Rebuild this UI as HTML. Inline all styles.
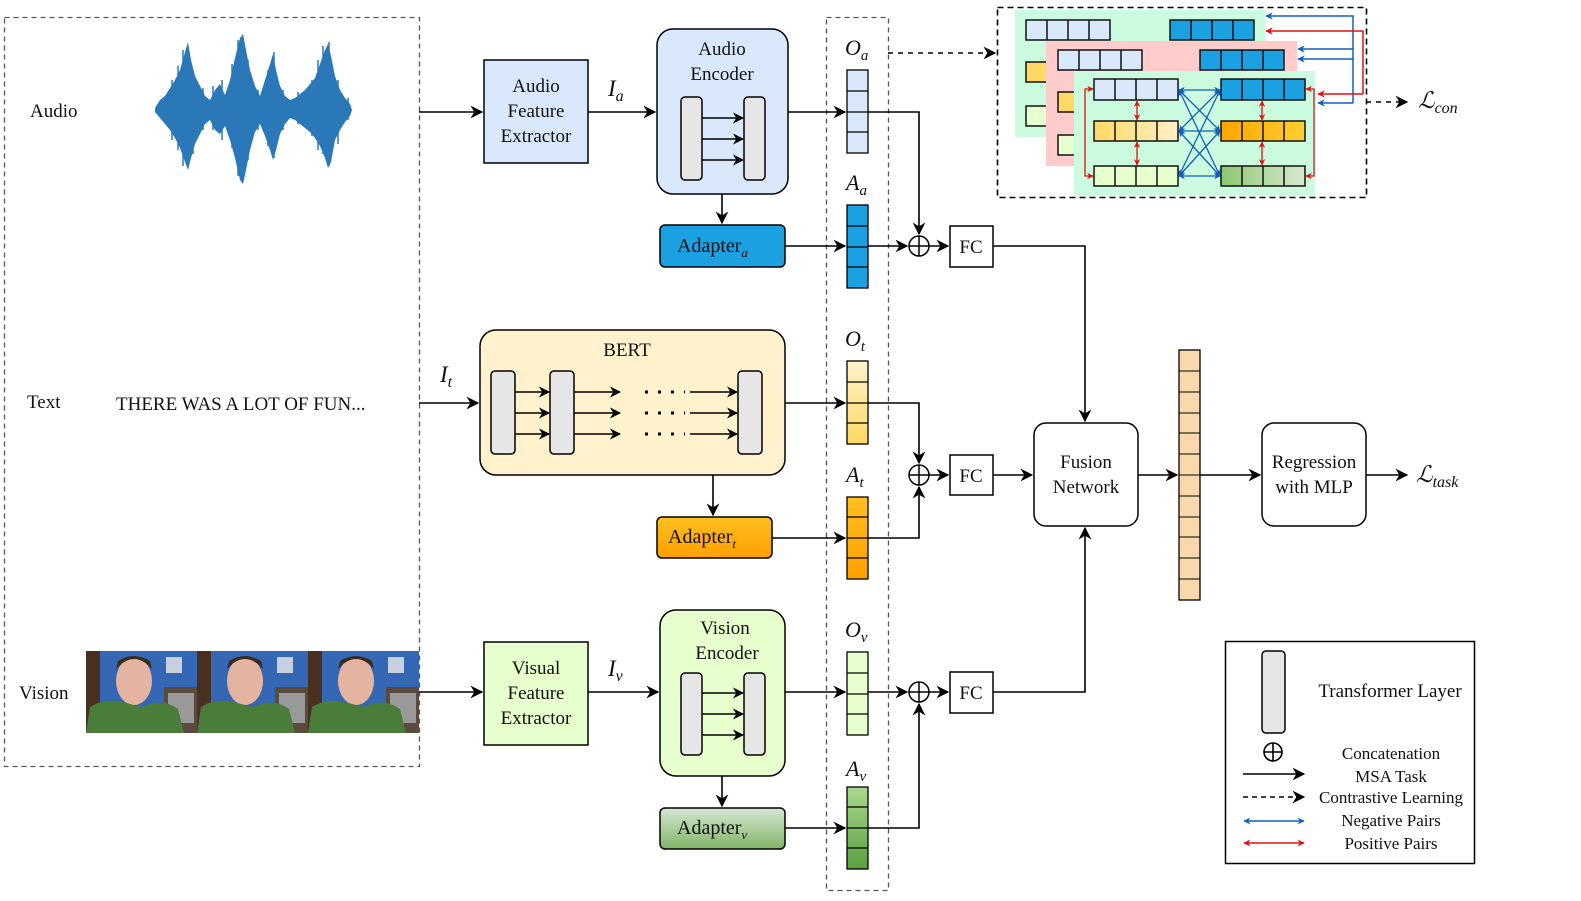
<!DOCTYPE html>
<html><head><meta charset="utf-8"><style>
html,body{margin:0;padding:0;background:#fff}
svg{display:block}
text{font-family:"Liberation Serif",serif;fill:#111}
</style></head><body>
<svg width="1581" height="901" viewBox="0 0 1581 901" xmlns="http://www.w3.org/2000/svg">
<defs>
<marker id="a" viewBox="0 0 10 10" refX="9" refY="5" markerWidth="8" markerHeight="8" orient="auto"><path d="M0,0 L10,5 L0,10 L3,5 z" fill="#000"/></marker>
<marker id="ab" viewBox="0 0 10 10" refX="9" refY="5" markerWidth="5" markerHeight="5" orient="auto-start-reverse"><path d="M0,0 L10,5 L0,10 L3,5 z" fill="#1060c0"/></marker>
<marker id="ar" viewBox="0 0 10 10" refX="9" refY="5" markerWidth="5" markerHeight="5" orient="auto-start-reverse"><path d="M0,0 L10,5 L0,10 L3,5 z" fill="#e01010"/></marker>
<linearGradient id="gy" x1="0" y1="0" x2="1" y2="0"><stop offset="0" stop-color="#ffd966"/><stop offset="1" stop-color="#fff0c8"/></linearGradient>
<linearGradient id="go" x1="0" y1="0" x2="1" y2="0"><stop offset="0" stop-color="#ffa500"/><stop offset="1" stop-color="#ffd030"/></linearGradient>
<linearGradient id="gg" x1="0" y1="0" x2="1" y2="0"><stop offset="0" stop-color="#8cc870"/><stop offset="1" stop-color="#d8e8d0"/></linearGradient>
<linearGradient id="gav" x1="0" y1="0" x2="0" y2="1"><stop offset="0" stop-color="#d5e8d4"/><stop offset="1" stop-color="#82b366"/></linearGradient>
<linearGradient id="gcol" x1="0" y1="0" x2="0" y2="1"><stop offset="0" stop-color="#fff2cc"/><stop offset="1" stop-color="#ffd966"/></linearGradient>
<linearGradient id="gcolv" x1="0" y1="0" x2="0" y2="1"><stop offset="0" stop-color="#a8d890"/><stop offset="1" stop-color="#5aa040"/></linearGradient>
<linearGradient id="gat" x1="0" y1="0" x2="0" y2="1"><stop offset="0" stop-color="#ffc020"/><stop offset="1" stop-color="#ffa000"/></linearGradient>
<g id="frame">
<rect x="0" y="0" width="111" height="82" fill="#3468b4"/>
<rect x="0" y="0" width="14" height="82" fill="#4a3020"/>
<rect x="78" y="36" width="33" height="46" fill="#5a4a40"/>
<rect x="82" y="42" width="26" height="30" fill="#999"/>
<rect x="80" y="6" width="16" height="16" fill="#c8d0e0"/>
<ellipse cx="48" cy="30" rx="18" ry="24" fill="#e4b4a0"/>
<path d="M30,18 Q48,-2 66,18 L64,10 Q48,0 32,10 z" fill="#3a2a20"/>
<path d="M0,82 L4,56 Q20,46 40,52 L56,56 Q76,46 92,58 L98,82 z" fill="#4a7c3a"/>
</g>
</defs>

<rect x="4.5" y="17.5" width="415" height="749" fill="none" stroke="#555" stroke-width="1.3" stroke-dasharray="5,4"/>
<text x="30" y="117" font-size="19">Audio</text>
<text x="27" y="408" font-size="19">Text</text>
<text x="19" y="699" font-size="19">Vision</text>
<text x="116" y="410" font-size="19">THERE WAS A LOT OF FUN...</text>

<path fill="#2a78b8" d="M155,108 160,100 165,96 170,88 175,80 180,70 185,52 188,42 191,60 195,76 200,86 205,96 210,100 215,90 220,84 225,95 230,80 235,58 240,38 243,34 246,50 250,70 255,86 260,96 265,80 270,64 273,54 276,70 280,86 285,96 290,100 295,98 300,94 305,90 310,84 315,78 320,64 325,50 328,44 331,56 335,76 340,90 345,98 350,104 352,110 350,116 345,122 340,130 335,140 331,162 328,168 325,158 320,146 315,138 310,132 305,128 300,124 295,120 290,118 285,124 280,134 276,150 273,160 270,150 265,136 260,124 255,132 250,150 246,170 243,184 240,180 235,158 230,140 225,126 220,134 215,130 210,120 205,124 200,134 195,144 191,158 188,170 185,162 180,148 175,138 170,130 165,124 160,118 155,112 z"/>
<g stroke="#2a78b8" stroke-width="1.5">
<path d="M172,80v60M178,66v84M183,50v116M193,70v84M203,88v42M213,86v44M222,80v60M232,64v84M238,40v136M248,60v100M258,90v40M268,70v76M274,52v106M283,90v40M298,92v32M312,80v56M318,60v90M323,46v108M329,42v124M338,80v64M348,98v22"/>
</g>

<use href="#frame" x="86" y="651"/>
<use href="#frame" x="197" y="651"/>
<use href="#frame" x="308" y="651"/>

<g stroke="#000" stroke-width="1.6" fill="none">
<line x1="419" y1="112" x2="482" y2="112" marker-end="url(#a)"/>
<line x1="419" y1="403" x2="478" y2="403" marker-end="url(#a)"/>
<line x1="419" y1="692" x2="482" y2="692" marker-end="url(#a)"/>
<line x1="588" y1="112" x2="655" y2="112" marker-end="url(#a)"/>
<line x1="588" y1="692" x2="658" y2="692" marker-end="url(#a)"/>
</g>

<rect x="484" y="60" width="104" height="103" fill="#dae8fc" stroke="#000" stroke-width="1.5"/>
<text x="536" y="92" font-size="19" text-anchor="middle">Audio</text>
<text x="536" y="117" font-size="19" text-anchor="middle">Feature</text>
<text x="536" y="142" font-size="19" text-anchor="middle">Extractor</text>
<text x="608" y="96" font-size="23" font-style="italic">I<tspan font-size="16" dy="5">a</tspan></text>

<rect x="657" y="29" width="131" height="165" rx="16" fill="#dae8fc" stroke="#000" stroke-width="1.5"/>
<text x="722" y="55" font-size="19" text-anchor="middle">Audio</text>
<text x="722" y="80" font-size="19" text-anchor="middle">Encoder</text>
<rect x="681" y="97" width="21" height="83" rx="4" fill="#e6e6e6" stroke="#000" stroke-width="1.5"/>
<rect x="744" y="97" width="21" height="83" rx="4" fill="#e6e6e6" stroke="#000" stroke-width="1.5"/>
<g stroke="#000" stroke-width="1.4" marker-end="url(#a)">
<line x1="702" y1="118" x2="743" y2="118"/><line x1="702" y1="139" x2="743" y2="139"/><line x1="702" y1="160" x2="743" y2="160"/>
</g>
<line x1="722" y1="194" x2="722" y2="223" stroke="#000" stroke-width="1.6" marker-end="url(#a)"/>
<rect x="660" y="225" width="125" height="42" rx="5" fill="#1ba1e2" stroke="#000" stroke-width="1.5"/>
<text x="677" y="252" font-size="20">Adapter<tspan font-size="13" font-style="italic" dy="5">a</tspan></text>

<rect x="484" y="642" width="104" height="103" fill="#e6ffcc" stroke="#000" stroke-width="1.5"/>
<text x="536" y="674" font-size="19" text-anchor="middle">Visual</text>
<text x="536" y="699" font-size="19" text-anchor="middle">Feature</text>
<text x="536" y="724" font-size="19" text-anchor="middle">Extractor</text>
<text x="608" y="676" font-size="23" font-style="italic">I<tspan font-size="16" dy="5">v</tspan></text>

<rect x="660" y="610" width="125" height="166" rx="16" fill="#e6ffcc" stroke="#000" stroke-width="1.5"/>
<text x="725" y="634" font-size="19" text-anchor="middle">Vision</text>
<text x="727" y="659" font-size="19" text-anchor="middle">Encoder</text>
<rect x="681" y="673" width="21" height="82" rx="4" fill="#e6e6e6" stroke="#000" stroke-width="1.5"/>
<rect x="744" y="673" width="21" height="82" rx="4" fill="#e6e6e6" stroke="#000" stroke-width="1.5"/>
<g stroke="#000" stroke-width="1.4" marker-end="url(#a)">
<line x1="702" y1="693" x2="743" y2="693"/><line x1="702" y1="714" x2="743" y2="714"/><line x1="702" y1="735" x2="743" y2="735"/>
</g>
<line x1="722" y1="776" x2="722" y2="806" stroke="#000" stroke-width="1.6" marker-end="url(#a)"/>
<rect x="660" y="808" width="125" height="41" rx="5" fill="url(#gav)" stroke="#000" stroke-width="1.5"/>
<text x="677" y="834" font-size="20">Adapter<tspan font-size="13" font-style="italic" dy="5">v</tspan></text>

<text x="440" y="382" font-size="23" font-style="italic">I<tspan font-size="16" dy="5">t</tspan></text>
<rect x="480" y="330" width="305" height="145" rx="16" fill="#fff2cc" stroke="#000" stroke-width="1.5"/>
<text x="627" y="356" font-size="19" text-anchor="middle">BERT</text>
<rect x="491" y="371" width="24" height="83" rx="4" fill="#e6e6e6" stroke="#000" stroke-width="1.5"/>
<rect x="550" y="371" width="24" height="83" rx="4" fill="#e6e6e6" stroke="#000" stroke-width="1.5"/>
<rect x="738" y="371" width="24" height="83" rx="4" fill="#e6e6e6" stroke="#000" stroke-width="1.5"/>
<g stroke="#000" stroke-width="1.4" marker-end="url(#a)">
<line x1="515" y1="392" x2="549" y2="392"/><line x1="515" y1="413" x2="549" y2="413"/><line x1="515" y1="434" x2="549" y2="434"/>
<line x1="574" y1="392" x2="620" y2="392"/><line x1="574" y1="413" x2="620" y2="413"/><line x1="574" y1="434" x2="620" y2="434"/>
<line x1="690" y1="392" x2="737" y2="392"/><line x1="690" y1="413" x2="737" y2="413"/><line x1="690" y1="434" x2="737" y2="434"/>
</g>
<g stroke="#000" stroke-width="3" stroke-dasharray="3,10">
<line x1="645" y1="392" x2="685" y2="392"/><line x1="645" y1="413" x2="685" y2="413"/><line x1="645" y1="434" x2="685" y2="434"/>
</g>
<line x1="713" y1="475" x2="713" y2="515" stroke="#000" stroke-width="1.6" marker-end="url(#a)"/>
<rect x="657" y="517" width="115" height="41" rx="5" fill="url(#gat)" stroke="#000" stroke-width="1.5"/>
<text x="668" y="543" font-size="20">Adapter<tspan font-size="13" font-style="italic" dy="5">t</tspan></text>

<rect x="826.5" y="17.5" width="62" height="873" fill="none" stroke="#555" stroke-width="1.3" stroke-dasharray="5,4"/>

<g stroke="#000" stroke-width="1.3">
<rect x="847" y="70" width="21" height="83" fill="#dae8fc"/>
<rect x="847" y="205" width="21" height="83" fill="#1ba1e2"/>
<rect x="847" y="361" width="21" height="83" fill="url(#gcol)"/>
<rect x="847" y="497" width="21" height="82" fill="url(#gat)"/>
<rect x="847" y="652" width="21" height="83" fill="#e6ffcc"/>
<rect x="847" y="787" width="21" height="82" fill="url(#gcolv)"/>
<path d="M847,91h21M847,112h21M847,132h21M847,226h21M847,247h21M847,267h21M847,382h21M847,403h21M847,423h21M847,517h21M847,538h21M847,558h21M847,673h21M847,694h21M847,714h21M847,807h21M847,828h21M847,848h21" fill="none"/>
</g>
<g font-size="22" font-style="italic">
<text x="845" y="55">O<tspan font-size="15" dy="5">a</tspan></text>
<text x="846" y="190">A<tspan font-size="15" dy="5">a</tspan></text>
<text x="845" y="346">O<tspan font-size="15" dy="5">t</tspan></text>
<text x="846" y="482">A<tspan font-size="15" dy="5">t</tspan></text>
<text x="845" y="637">O<tspan font-size="15" dy="5">v</tspan></text>
<text x="846" y="776">A<tspan font-size="15" dy="5">v</tspan></text>
</g>

<g stroke="#000" stroke-width="1.6" fill="none">
<line x1="788" y1="112" x2="845" y2="112" marker-end="url(#a)"/>
<line x1="785" y1="246" x2="845" y2="246" marker-end="url(#a)"/>
<line x1="785" y1="403" x2="845" y2="403" marker-end="url(#a)"/>
<line x1="772" y1="538" x2="845" y2="538" marker-end="url(#a)"/>
<line x1="785" y1="692" x2="845" y2="692" marker-end="url(#a)"/>
<line x1="785" y1="828" x2="845" y2="828" marker-end="url(#a)"/>
<polyline points="868,112 919,112 919,234" marker-end="url(#a)"/>
<line x1="868" y1="246" x2="907" y2="246" marker-end="url(#a)"/>
<polyline points="868,403 919,403 919,463" marker-end="url(#a)"/>
<polyline points="868,538 919,538 919,487" marker-end="url(#a)"/>
<line x1="868" y1="692" x2="907" y2="692" marker-end="url(#a)"/>
<polyline points="868,828 919,828 919,704" marker-end="url(#a)"/>
<line x1="929" y1="246" x2="948" y2="246" marker-end="url(#a)"/>
<line x1="929" y1="475" x2="948" y2="475" marker-end="url(#a)"/>
<line x1="929" y1="692" x2="948" y2="692" marker-end="url(#a)"/>
<polyline points="993,246 1085,246 1085,421" marker-end="url(#a)"/>
<line x1="993" y1="475" x2="1032" y2="475" marker-end="url(#a)"/>
<polyline points="993,692 1085,692 1085,528" marker-end="url(#a)"/>
<line x1="1138" y1="475" x2="1177" y2="475" marker-end="url(#a)"/>
<line x1="1200" y1="475" x2="1260" y2="475" marker-end="url(#a)"/>
<line x1="1366" y1="475" x2="1407" y2="475" marker-end="url(#a)"/>
<line x1="888" y1="53" x2="995" y2="53" stroke-dasharray="5,5" marker-end="url(#a)"/>
<line x1="1366" y1="102" x2="1407" y2="102" stroke-dasharray="5,5" marker-end="url(#a)"/>
</g>

<g stroke="#000" stroke-width="1.5" fill="#fff">
<circle cx="919" cy="246" r="10"/><circle cx="919" cy="475" r="10"/><circle cx="919" cy="692" r="10"/>
<path d="M909,246h20M919,236v20M909,475h20M919,465v20M909,692h20M919,682v20" fill="none"/>
</g>

<g stroke="#000" stroke-width="1.5" fill="#fff">
<rect x="950" y="226" width="43" height="41"/><rect x="950" y="455" width="43" height="40"/><rect x="950" y="672" width="43" height="41"/>
</g>
<text x="971" y="253" font-size="19" text-anchor="middle">FC</text>
<text x="971" y="482" font-size="19" text-anchor="middle">FC</text>
<text x="971" y="699" font-size="19" text-anchor="middle">FC</text>

<rect x="1034" y="423" width="104" height="103" rx="12" fill="#fff" stroke="#000" stroke-width="1.5"/>
<text x="1086" y="468" font-size="19" text-anchor="middle">Fusion</text>
<text x="1086" y="493" font-size="19" text-anchor="middle">Network</text>
<rect x="1179" y="350" width="21" height="250" fill="#fad7ac" stroke="#000" stroke-width="1.3"/>
<g stroke="#000" stroke-width="1">
<path d="M1179,371h21M1179,392h21M1179,413h21M1179,433h21M1179,454h21M1179,475h21M1179,496h21M1179,517h21M1179,537h21M1179,558h21M1179,579h21"/>
</g>
<rect x="1262" y="423" width="104" height="103" rx="12" fill="#fff" stroke="#000" stroke-width="1.5"/>
<text x="1314" y="468" font-size="19" text-anchor="middle">Regression</text>
<text x="1314" y="493" font-size="19" text-anchor="middle">with MLP</text>
<text x="1416" y="482" font-size="23" font-style="italic">ℒ<tspan font-size="16" dy="5">task</tspan></text>
<text x="1418" y="108" font-size="23" font-style="italic">ℒ<tspan font-size="16" dy="5">con</tspan></text>

<rect x="997.5" y="7.5" width="369" height="190" fill="none" stroke="#000" stroke-width="1.6" stroke-dasharray="6,4"/>
<rect x="1015" y="10" width="250" height="127" fill="#ccfce0"/>
<g stroke="#111" stroke-width="1.5">
<rect x="1026" y="20" width="84" height="20" fill="#dae8fc"/><path d="M1047,20v20M1068,20v20M1089,20v20"/>
<rect x="1170" y="20" width="84" height="20" fill="#1ba1e2"/><path d="M1191,20v20M1212,20v20M1233,20v20"/>
<rect x="1026" y="62" width="30" height="20" fill="#ffd966"/>
<rect x="1026" y="106" width="30" height="20" fill="#e6ffcc"/>
</g>
<rect x="1046" y="41" width="251" height="125" fill="#ffcccc"/>
<g stroke="#111" stroke-width="1.5">
<rect x="1058" y="50" width="84" height="20" fill="#dae8fc"/><path d="M1079,50v20M1100,50v20M1121,50v20"/>
<rect x="1200" y="50" width="84" height="20" fill="#1ba1e2"/><path d="M1221,50v20M1242,50v20M1263,50v20"/>
<rect x="1058" y="92" width="30" height="20" fill="#ffd966"/>
<rect x="1058" y="135" width="30" height="20" fill="#e6ffcc"/>
</g>
<rect x="1074" y="71" width="241" height="125" fill="#ccfce0"/>
<g stroke="#111" stroke-width="1.5">
<rect x="1094" y="79" width="84" height="21" fill="#dae8fc"/><path d="M1115,79v21M1136,79v21M1157,79v21"/>
<rect x="1094" y="121" width="84" height="20" fill="url(#gy)"/><path d="M1115,121v20M1136,121v20M1157,121v20"/>
<rect x="1094" y="166" width="84" height="20" fill="#e6ffcc"/><path d="M1115,166v20M1136,166v20M1157,166v20"/>
<rect x="1221" y="79" width="84" height="21" fill="#1ba1e2"/><path d="M1242,79v21M1263,79v21M1284,79v21"/>
<rect x="1221" y="121" width="84" height="20" fill="url(#go)"/><path d="M1242,121v20M1263,121v20M1284,121v20"/>
<rect x="1221" y="166" width="84" height="20" fill="url(#gg)"/><path d="M1242,166v20M1263,166v20M1284,166v20"/>
</g>
<g stroke="#1060c0" stroke-width="1.3" marker-start="url(#ab)" marker-end="url(#ab)">
<line x1="1179" y1="90" x2="1220" y2="90"/><line x1="1179" y1="90" x2="1220" y2="131"/><line x1="1179" y1="90" x2="1220" y2="176"/>
<line x1="1179" y1="131" x2="1220" y2="90"/><line x1="1179" y1="131" x2="1220" y2="131"/><line x1="1179" y1="131" x2="1220" y2="176"/>
<line x1="1179" y1="176" x2="1220" y2="90"/><line x1="1179" y1="176" x2="1220" y2="131"/><line x1="1179" y1="176" x2="1220" y2="176"/>
</g>
<g stroke="#e01010" stroke-width="1.3" fill="none" marker-start="url(#ar)" marker-end="url(#ar)">
<line x1="1137" y1="101" x2="1137" y2="120"/><line x1="1137" y1="142" x2="1137" y2="165"/>
<line x1="1262" y1="101" x2="1262" y2="120"/><line x1="1262" y1="142" x2="1262" y2="165"/>
<polyline points="1093,89 1085,89 1085,176 1093,176"/>
<polyline points="1306,89 1314,89 1314,176 1306,176"/>
</g>
<g fill="none" stroke-width="1.5">
<polyline points="1353,103 1353,59 1298,59" stroke="#1060c0" marker-end="url(#ab)"/>
<polyline points="1353,59 1353,16 1266,16" stroke="#1060c0" marker-end="url(#ab)"/>
<polyline points="1353,49 1298,49" stroke="#1060c0" marker-end="url(#ab)"/>
<polyline points="1353,103 1318,103" stroke="#1060c0" marker-end="url(#ab)"/>
<polyline points="1363,94 1363,31 1266,31" stroke="#e01010" marker-end="url(#ar)"/>
<polyline points="1363,94 1318,94" stroke="#e01010" marker-end="url(#ar)"/>
</g>

<rect x="1225.5" y="641.5" width="249" height="222" fill="#fff" stroke="#000" stroke-width="1.5"/>
<rect x="1262" y="651" width="23" height="82" rx="4" fill="#e6e6e6" stroke="#000" stroke-width="1.5"/>
<text x="1390" y="697" font-size="19" text-anchor="middle">Transformer Layer</text>
<circle cx="1273" cy="752" r="9" fill="#fff" stroke="#000" stroke-width="1.6"/>
<path d="M1264,752h18M1273,743v18" stroke="#000" stroke-width="1.6"/>
<g font-size="17" text-anchor="middle">
<text x="1391" y="759">Concatenation</text>
<text x="1391" y="782">MSA Task</text>
<text x="1391" y="803">Contrastive Learning</text>
<text x="1391" y="826">Negative Pairs</text>
<text x="1391" y="849">Positive Pairs</text>
</g>
<line x1="1243" y1="774" x2="1304" y2="774" stroke="#000" stroke-width="1.6" marker-end="url(#a)"/>
<line x1="1243" y1="797" x2="1304" y2="797" stroke="#000" stroke-width="1.6" stroke-dasharray="5,4" marker-end="url(#a)"/>
<line x1="1244" y1="821" x2="1304" y2="821" stroke="#1060c0" stroke-width="1.4" marker-start="url(#ab)" marker-end="url(#ab)"/>
<line x1="1244" y1="843" x2="1304" y2="843" stroke="#e01010" stroke-width="1.4" marker-start="url(#ar)" marker-end="url(#ar)"/>
</svg>
</body></html>
